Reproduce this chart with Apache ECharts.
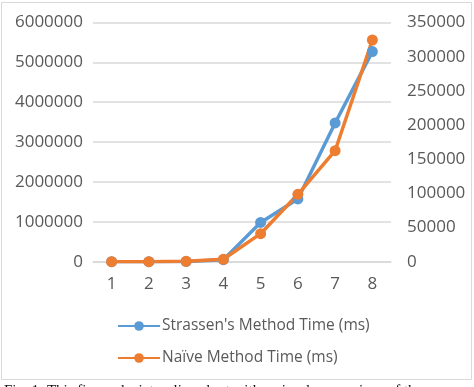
<!DOCTYPE html>
<html>
<head>
<meta charset="utf-8">
<script src="https://cdn.jsdelivr.net/npm/echarts@6/dist/echarts.min.js"></script>
<style>
  html, body { margin: 0; padding: 0; background: #fff; }
  #chart { width: 474px; height: 387px; }
</style>
</head>
<body>
<div id="chart"></div>
<script>
const categories = ["1", "2", "3", "4", "5", "6", "7", "8"];
const strassenTimes = [0, 500, 6000, 50000, 985000, 1575000, 3480000, 5270000];
const naiveTimes = [0, 100, 500, 3500, 41000, 98600, 162400, 324400];
const caption = "Fig. 1: This figure depicts a line chart with a visual comparison of the";

const labelColor = "#595959";
const gridColor = "#d9d9d9";
const font = "Open Sans, sans-serif";

const plain = (value) => String(value);

const chart = echarts.init(document.getElementById("chart"), null, { renderer: "canvas" });

chart.setOption({
    animation: false,
    textStyle: { fontFamily: font },
    graphic: [
        {
            type: "rect",
            shape: { x: 1.5, y: 2.5, width: 470, height: 377 },
            style: { fill: "none", stroke: gridColor, lineWidth: 1 },
            silent: true
        },
        {
            type: "text",
            left: 4,
            top: 384,
            style: { text: caption, font: "15px 'Liberation Serif', serif", fill: "#111" },
            silent: true
        }
    ],
    grid: { left: 93, right: 83, top: 22.5, bottom: 125.3 },
    legend: {
        orient: "vertical",
        left: 112,
        top: 313,
        itemWidth: 42,
        itemHeight: 12,
        itemGap: 16,
        textStyle: { color: labelColor, fontSize: 15.5, fontFamily: font, padding: [0, 0, 0, -3] },
        data: ["Strassen's Method Time (ms)", "Naïve Method Time (ms)"]
    },
    xAxis: {
        type: "category",
        data: categories,
        boundaryGap: true,
        axisLine: { lineStyle: { color: gridColor, width: 1.5 } },
        axisTick: { show: false },
        axisLabel: { color: labelColor, fontSize: 17, margin: 14 }
    },
    yAxis: [
        {
            type: "value",
            min: 0,
            max: 6000000,
            interval: 1000000,
            axisLine: { show: false },
            axisTick: { show: false },
            splitLine: { lineStyle: { color: gridColor, width: 1.5 } },
            axisLabel: { color: labelColor, fontSize: 17, margin: 10, formatter: plain }
        },
        {
            type: "value",
            min: 0,
            max: 350000,
            interval: 50000,
            axisLine: { show: false },
            axisTick: { show: false },
            splitLine: { show: false },
            axisLabel: { color: labelColor, fontSize: 17, margin: 16, formatter: plain }
        }
    ],
    series: [
        {
            name: "Strassen's Method Time (ms)",
            type: "line",
            yAxisIndex: 0,
            data: strassenTimes,
            symbol: "circle",
            symbolSize: 11,
            color: "#5b9bd5",
            lineStyle: { width: 3.5 }
        },
        {
            name: "Naïve Method Time (ms)",
            type: "line",
            yAxisIndex: 1,
            data: naiveTimes,
            symbol: "circle",
            symbolSize: 11,
            color: "#ed7d31",
            lineStyle: { width: 3.5 }
        }
    ]
});
</script>
</body>
</html>
